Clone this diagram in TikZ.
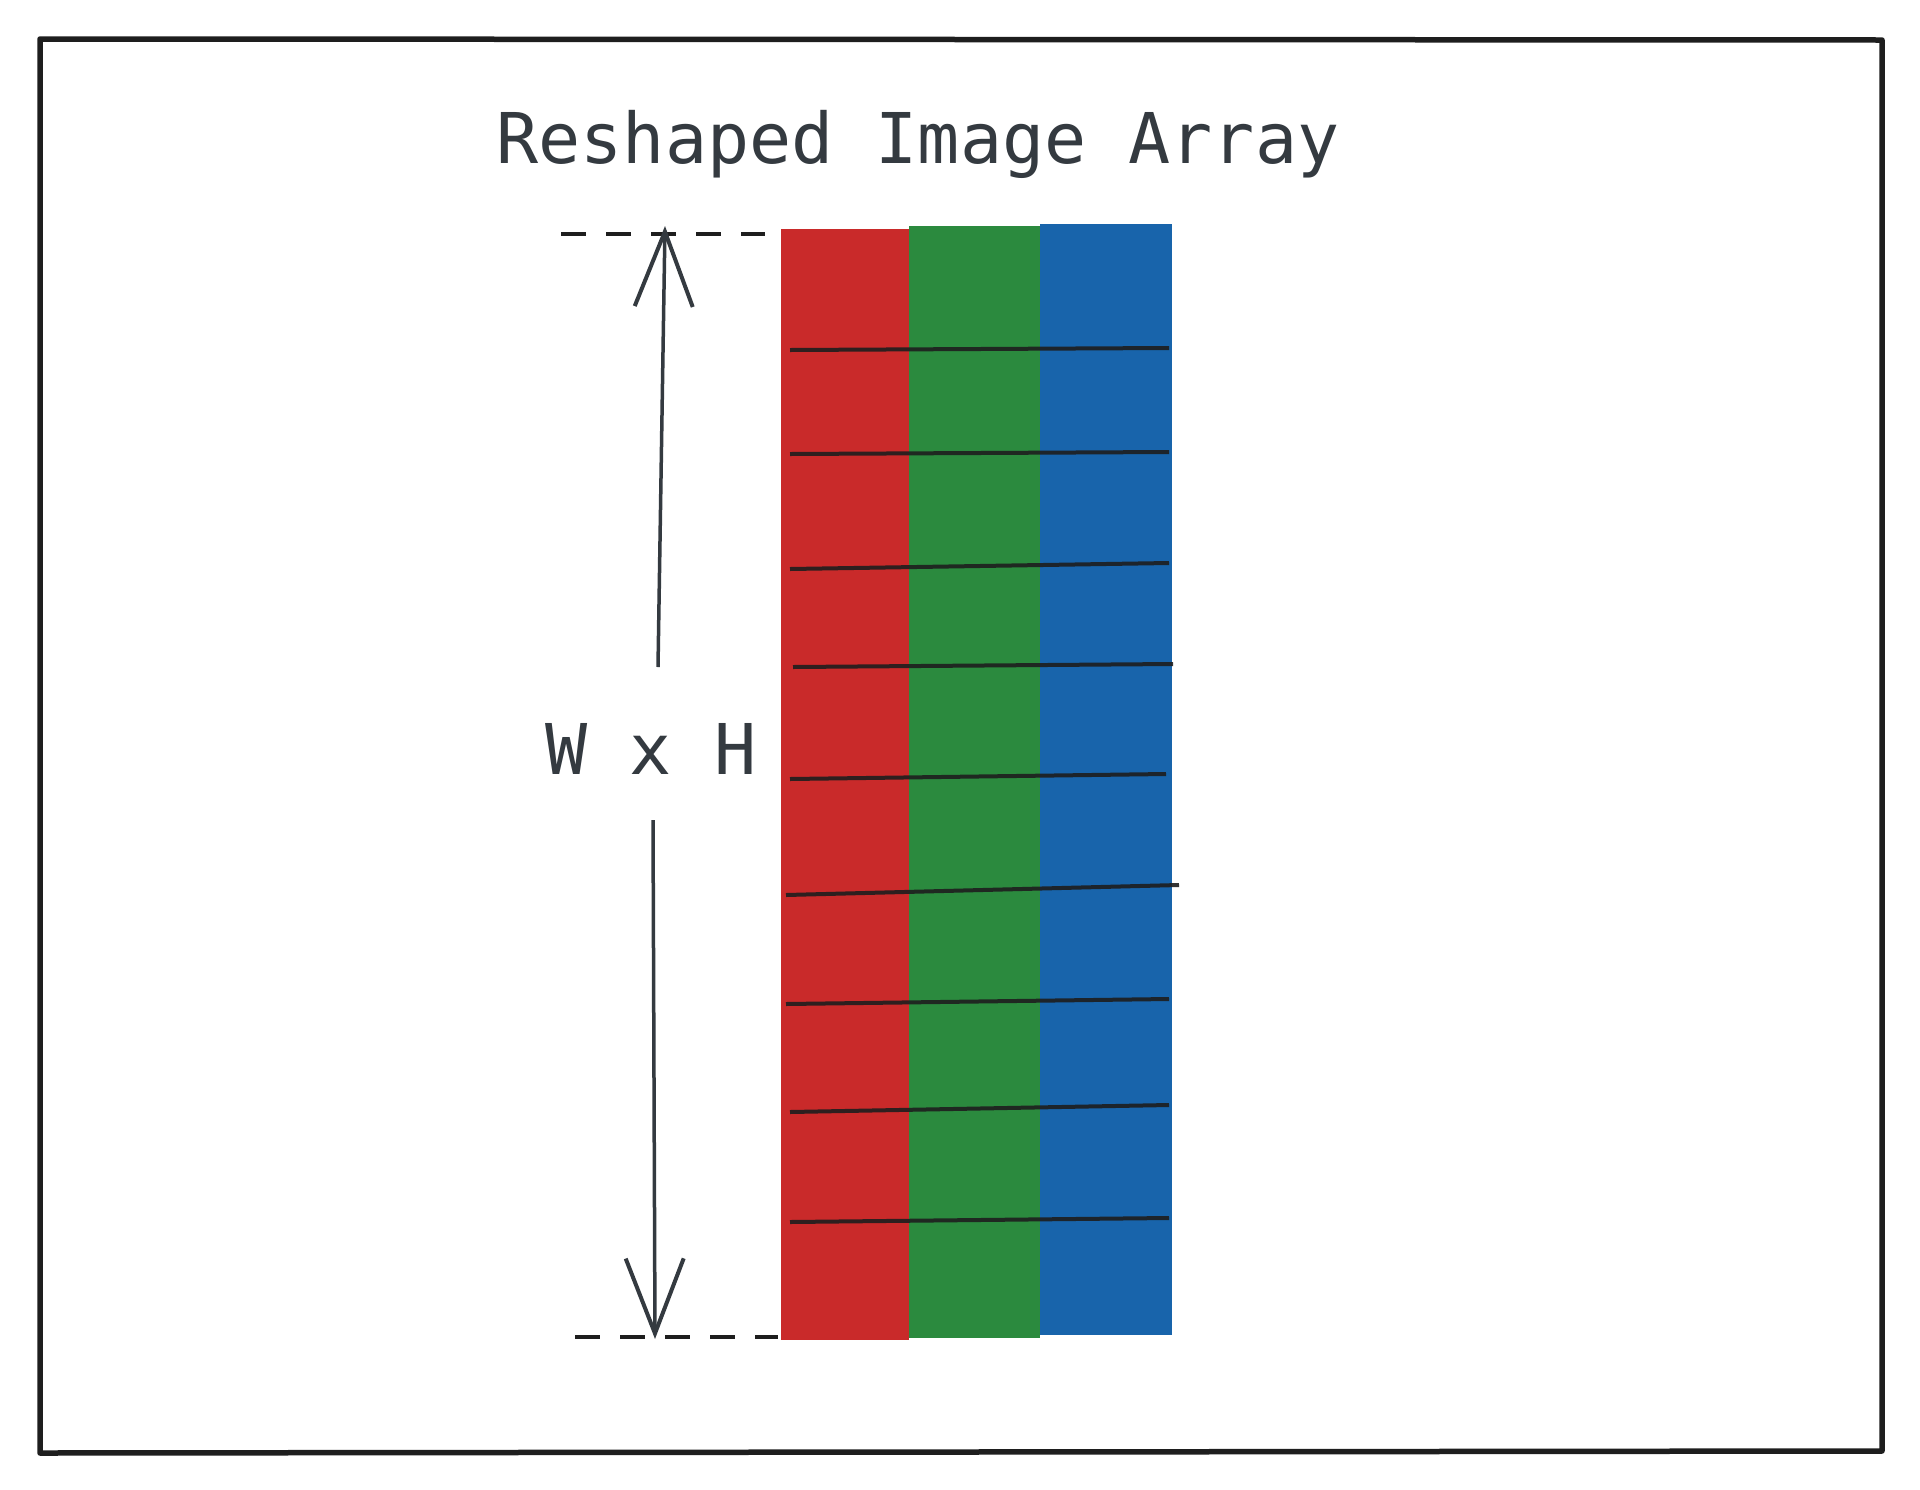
\documentclass[tikz,border=0pt]{standalone}
\usepackage{fontspec}
\newfontfamily\codefont{DejaVu Sans Mono}
\definecolor{inkgray}{HTML}{343A40}
\definecolor{inkline}{HTML}{1E1E1E}
\definecolor{chred}{HTML}{C92A2A}
\definecolor{chgreen}{HTML}{2B8A3E}
\definecolor{chblue}{HTML}{1864AB}
\usetikzlibrary{arrows.meta}
\tikzset{
  label text/.style={font=\codefont\fontsize{70}{84}\selectfont, text=inkgray, inner sep=0pt, anchor=base},
  row line/.style={inkline, line width=4pt, opacity=0.9},
  guide line/.style={inkline, line width=4pt, dash pattern=on 25pt off 20pt},
  dim arrow/.style={-{Straight Barb[length=75pt, width=58pt, line width=4pt]}, inkgray, line width=3.5pt}
}

\begin{document}
\begin{tikzpicture}[x=1pt, y=-1pt]
  \useasboundingbox (0,0) rectangle (1920,1489);
  \fill[white] (0,0) rectangle (1920,1489);

  % Outer frame
  \draw[inkline, line width=5.5pt, line join=round] (40,39) -- (1882,40) -- (1882,1451) -- (40,1453) -- cycle;

  % Title
  \node[label text] (title) at (918,163) {Reshaped Image Array};

  % Colour channels
  \fill[chred] (781,229) rectangle (909,1340);
  \fill[chgreen] (909,226) rectangle (1040,1338);
  \fill[chblue] (1040,224) rectangle (1172,1335);

  % Row separators
  \foreach \xa/\ya/\xb/\yb in {790/350/1169/348, 790/454/1169/452, 790/569/1169/563,
      793/667/1173/664, 790/779/1166/774, 786/895/1179/885, 786/1004/1169/999,
      790/1112/1169/1105, 790/1222/1169/1218}
    \draw[row line] (\xa,\ya) -- (\xb,\yb);

  % Top and bottom guides
  \draw[guide line] (561,234) -- (765,234);
  \draw[guide line] (575,1337) -- (778,1337);

  % Dimension label with arrows
  \node[label text] (dims) at (651,774) {W x H};
  \coordinate (uptail) at (658,667);
  \coordinate (uptip) at (665,226);
  \coordinate (downtail) at (653,820);
  \coordinate (downtip) at (655,1339);
  \draw[dim arrow] (uptail) -- (uptip);
  \draw[dim arrow] (downtail) -- (downtip);
\end{tikzpicture}
\end{document}
